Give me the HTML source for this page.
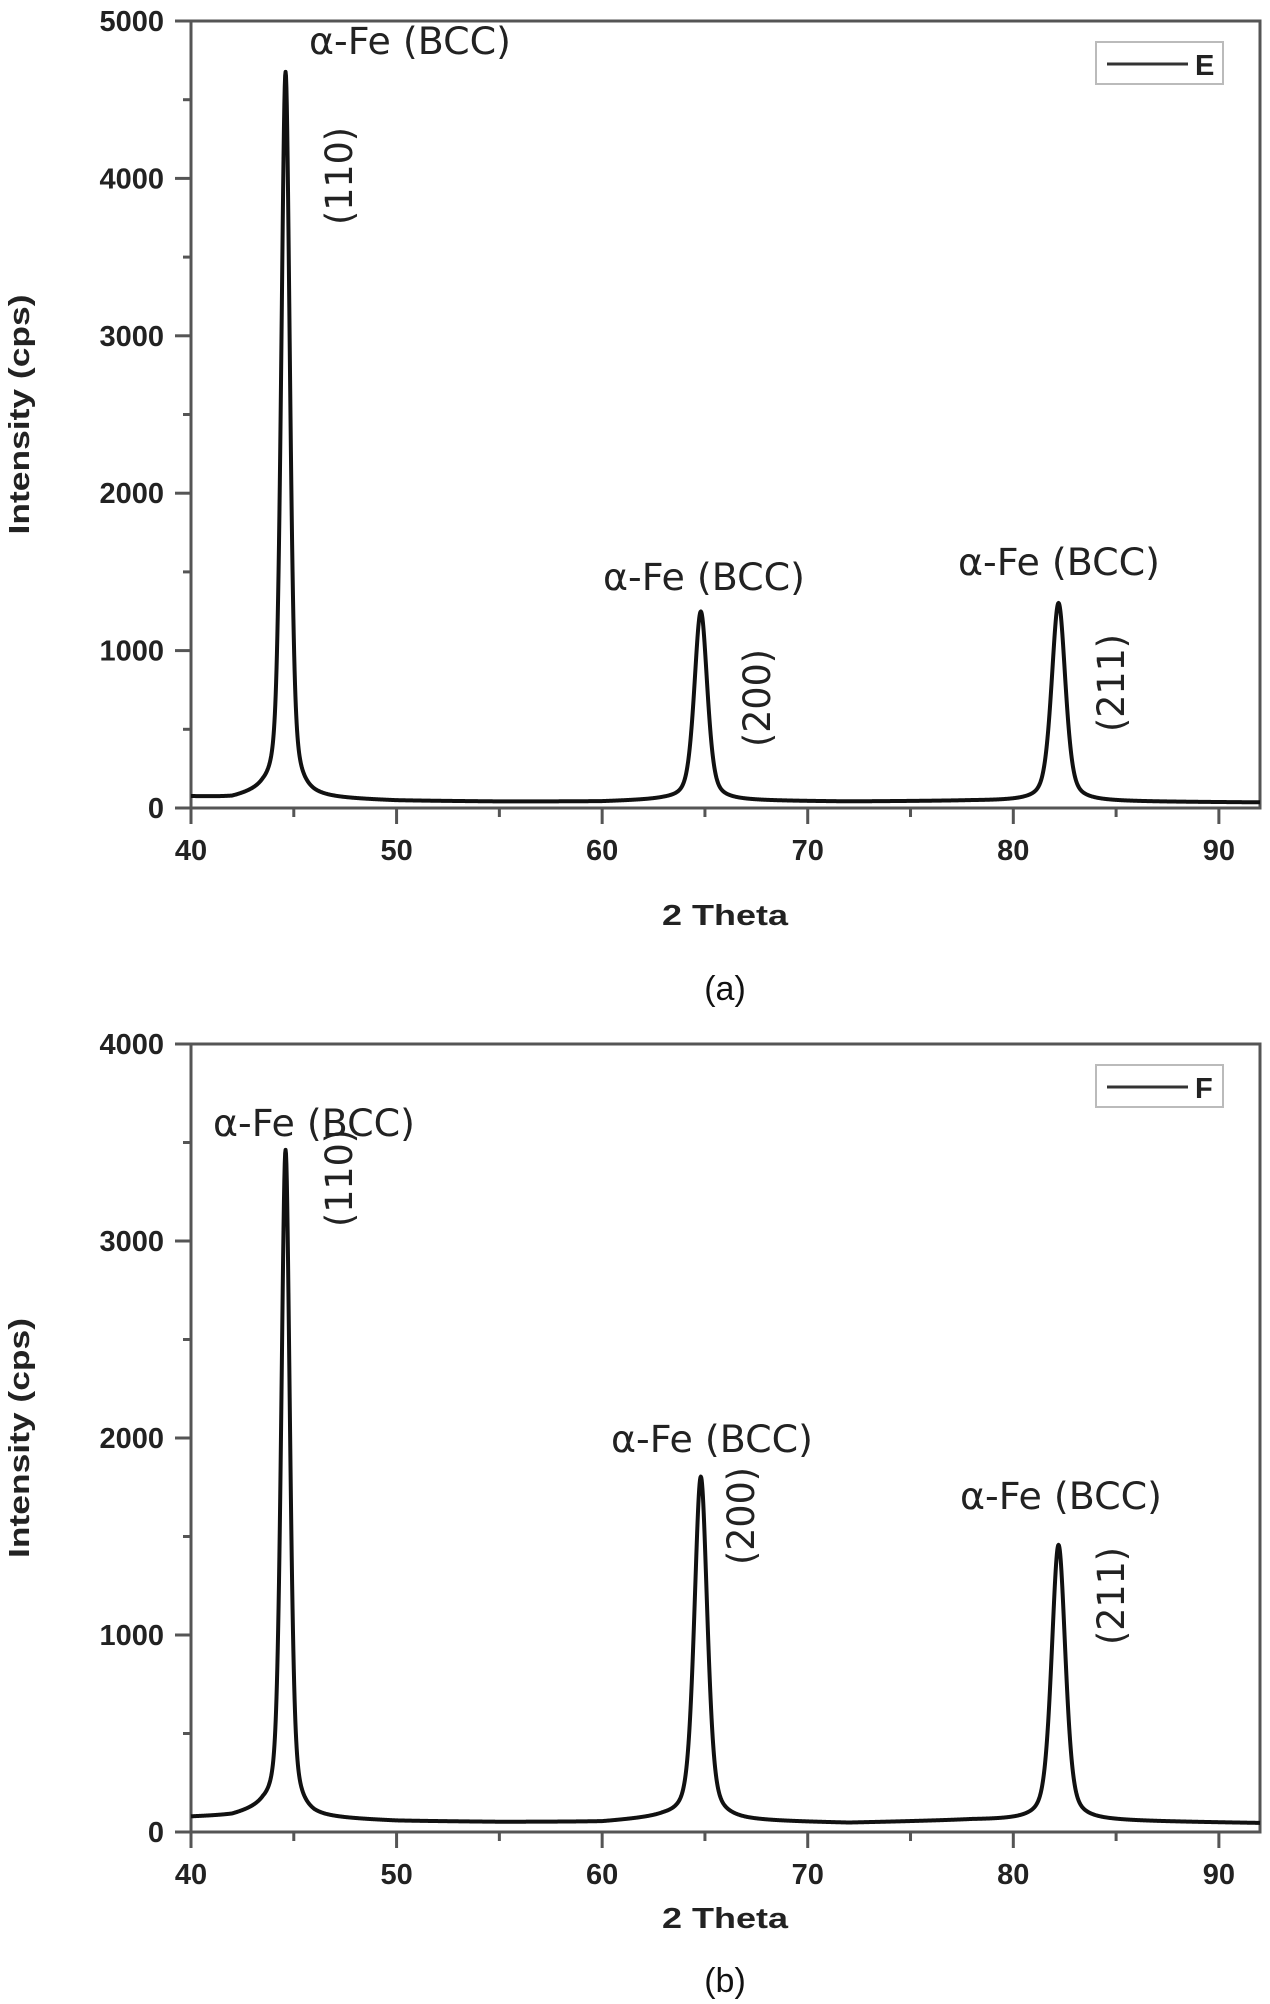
<!DOCTYPE html>
<html><head><meta charset="utf-8"><style>
body{margin:0;background:#fff}
svg{display:block}
text{font-family:"Liberation Sans",Arial,sans-serif}
.tk{font-weight:bold;font-size:29px;fill:#222}
.ann{font-family:"DejaVu Sans","Liberation Sans",sans-serif;font-size:37px;fill:#222}
</style></head><body>
<svg id="chart" width="1270" height="2004" viewBox="0 0 1270 2004" xmlns="http://www.w3.org/2000/svg"></svg>
<script>
// ---- data ----
const xTicks = [40, 50, 60, 70, 80, 90];
const yTicksA = [0, 1000, 2000, 3000, 4000, 5000];
const yTicksB = [0, 1000, 2000, 3000, 4000];
const peakPosA = [44.6, 64.8, 82.2];
const peakHeightA = [4600, 1200, 1260];
const peakPosB = [44.6, 64.8, 82.2];
const peakHeightB = [3370, 1740, 1400];
const peakFwhm = [0.5, 0.75, 0.8];
const baseX = [40, 42, 43.5, 46, 50, 55, 60, 63, 67, 72, 78, 85, 92];
const baseA = [70, 60, 90, 60, 45, 40, 40, 50, 45, 40, 45, 40, 35];
const baseB = [75, 80, 110, 70, 55, 50, 50, 70, 55, 45, 60, 55, 45];
const hkl = ["(110)", "(200)", "(211)"];
const phase = "α-Fe (BCC)";

const NS = "http://www.w3.org/2000/svg";
const svg = document.getElementById("chart");
function mk(tag, attrs, parent){const e=document.createElementNS(NS,tag);for(const k in attrs)e.setAttribute(k,attrs[k]);(parent||svg).appendChild(e);return e;}

function interpBase(x, arr){
  for(let i=0;i<baseX.length-1;i++){
    if(x>=baseX[i]&&x<=baseX[i+1]){const t=(x-baseX[i])/(baseX[i+1]-baseX[i]);return arr[i]+t*(arr[i+1]-arr[i]);}
  }
  return arr[arr.length-1];
}
function intensity(x,pos,h,base){
  let y=interpBase(x,base);
  for(let i=0;i<pos.length;i++){
    const g=peakFwhm[i]/2, d=x-pos[i];
    const lor=1/(1+(d/g)*(d/g));
    const gau=Math.exp(-Math.LN2*(d/g)*(d/g));
    y+=h[i]*(0.55*gau+0.45*lor);
  }
  return y;
}

function panel(cfg){
  const {top,bottom,ymax,yTicks,pos,h,base,legend,labels,name,caption,xtOff}=cfg;
  const left=191,right=1260;
  const xs=v=>left+(v-40)*(right-left)/52;
  const ys=v=>bottom-(v/ymax)*(bottom-top);
  const g=mk("g",{});
  
  
  const fr=mk("rect",{x:left,y:top,width:right-left,height:bottom-top,fill:"none",stroke:"#555","stroke-width":3},g);
  
  
  for(const t of yTicks){
    mk("line",{x1:left-16,x2:left,y1:ys(t),y2:ys(t),stroke:"#555","stroke-width":3},g);
    const lb=mk("text",{x:left-27,y:ys(t)+10,"text-anchor":"end",class:"tk"},g);
    lb.textContent=t;
    
    
  }
  for(let i=0;i<yTicks.length-1;i++){
    const m=(yTicks[i]+yTicks[i+1])/2;
    mk("line",{x1:left-8,x2:left,y1:ys(m),y2:ys(m),stroke:"#555","stroke-width":3},g);
  }
  for(const t of xTicks){
    mk("line",{x1:xs(t),x2:xs(t),y1:bottom,y2:bottom+16,stroke:"#555","stroke-width":3},g);
    const lb=mk("text",{x:xs(t),y:bottom+52,"text-anchor":"middle",class:"tk"},g);
    lb.textContent=t;
    
    
    if(t+5<92) mk("line",{x1:xs(t+5),x2:xs(t+5),y1:bottom,y2:bottom+9,stroke:"#555","stroke-width":3},g);
  }
  let d="";
  for(let x=40;x<=92;x+=0.02){
    d+=(d?"L":"M")+xs(x).toFixed(2)+","+ys(intensity(x,pos,h,base)).toFixed(2);
  }
  const p=mk("path",{d:d,fill:"none",stroke:"#111","stroke-width":4,"stroke-linejoin":"round"},g);
  
  
  const xt=mk("text",{x:725,y:bottom+xtOff,"text-anchor":"middle",class:"tk","font-size":"29",textLength:"126",lengthAdjust:"spacingAndGlyphs"},g);
  xt.textContent="2 Theta";
  
  
  const cy=(top+bottom)/2;
  const yt=mk("text",{x:0,y:0,transform:`translate(29,${cy}) rotate(-90)`,"text-anchor":"middle",class:"tk","font-size":"27",textLength:"240",lengthAdjust:"spacingAndGlyphs"},g);
  yt.textContent="Intensity (cps)";
  
  
  const lg=mk("g",{},g);
  
  
  mk("rect",{x:1096,y:top+21,width:127,height:42,fill:"#fff",stroke:"#bbb","stroke-width":2},lg);
  mk("line",{x1:1107,x2:1188,y1:top+43,y2:top+43,stroke:"#333","stroke-width":3},lg);
  const lt=mk("text",{x:1195,y:top+54,class:"tk","font-size":"29"},lg);
  lt.textContent=legend;
  for(let i=0;i<labels.length;i++){
    const L=labels[i];
    const a=mk("text",{x:L.ax,y:L.ay,class:"ann",textLength:"202",lengthAdjust:"spacingAndGlyphs"},g);
    a.textContent=phase;
    
    
    const b=mk("text",{x:0,y:0,transform:`translate(${L.bx},${L.by}) rotate(-90)`,"text-anchor":"middle",class:"ann",textLength:"98",lengthAdjust:"spacingAndGlyphs"},g);
    b.textContent=hkl[i];
    
    
  }
  const c=mk("text",{x:725,y:caption,"text-anchor":"middle","font-family":"Liberation Serif, serif","font-size":"34",fill:"#111"},g);
  c.textContent=name==="panel-a"?"(a)":"(b)";
  
  
}

panel({top:21,bottom:808,ymax:5000,yTicks:yTicksA,pos:peakPosA,h:peakHeightA,base:baseA,legend:"E",name:"panel-a",caption:1000,xtOff:117,
  labels:[{ax:309,ay:54,bx:352,by:176},{ax:603,ay:590,bx:770,by:698},{ax:958,ay:575,bx:1124,by:683}]});
panel({top:1044,bottom:1832,ymax:4000,yTicks:yTicksB,pos:peakPosB,h:peakHeightB,base:baseB,legend:"F",name:"panel-b",caption:1992,xtOff:96,
  labels:[{ax:213,ay:1136,bx:352,by:1178},{ax:611,ay:1452,bx:754,by:1516},{ax:960,ay:1509,bx:1124,by:1596}]});
</script>
</body></html>
